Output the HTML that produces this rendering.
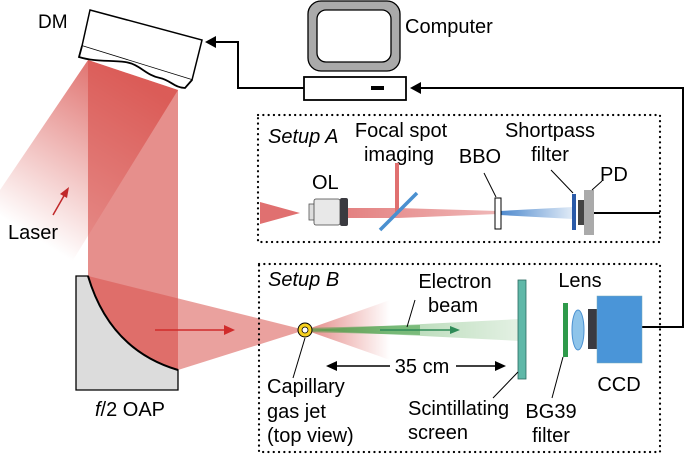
<!DOCTYPE html>
<html><head><meta charset="utf-8"><style>
html,body{margin:0;padding:0;background:#fff;}
svg{display:block;font-family:"Liberation Sans",sans-serif;}
</style></head><body>
<svg width="685" height="454" viewBox="0 0 685 454" xmlns="http://www.w3.org/2000/svg">
<defs>
<linearGradient id="inc" x1="130" y1="75" x2="30" y2="235" gradientUnits="userSpaceOnUse">
<stop offset="0" stop-color="#d9534f" stop-opacity="0.85"/>
<stop offset="1" stop-color="#d9534f" stop-opacity="0"/>
</linearGradient>
<linearGradient id="grn" x1="305" y1="0" x2="520" y2="0" gradientUnits="userSpaceOnUse">
<stop offset="0" stop-color="#3a9a3a"/>
<stop offset="1" stop-color="#3a9a3a" stop-opacity="0.25"/>
</linearGradient>
<linearGradient id="div" x1="305" y1="0" x2="390" y2="0" gradientUnits="userSpaceOnUse">
<stop offset="0" stop-color="#d9534f" stop-opacity="0.7"/>
<stop offset="1" stop-color="#d9534f" stop-opacity="0"/>
</linearGradient>
<linearGradient id="blu" x1="500" y1="0" x2="573" y2="0" gradientUnits="userSpaceOnUse">
<stop offset="0" stop-color="#3a7cc8" stop-opacity="0.9"/>
<stop offset="1" stop-color="#3a7cc8" stop-opacity="0.15"/>
</linearGradient>
<linearGradient id="redA" x1="300" y1="0" x2="498" y2="0" gradientUnits="userSpaceOnUse">
<stop offset="0" stop-color="#e07070"/>
<stop offset="1" stop-color="#e07070" stop-opacity="0.5"/>
</linearGradient>
</defs>

<polygon points="88,60 178,90 70,265 0,215 0,190" fill="url(#inc)"/>
<path d="M88,60 L178,90 L178,370 Q110,350 88,276 Z" fill="#d9534f" fill-opacity="0.65"/>
<path d="M88,276 Q110,350 178,370 L305,330 Z" fill="#d9534f" fill-opacity="0.55"/>
<polygon points="305,330 390,300 390,360" fill="url(#div)"/>
<line x1="155" y1="330" x2="228" y2="330" stroke="#d02b2b" stroke-width="1.5"/>
<polygon points="235,330 224,325 224,335" fill="#d02b2b"/>
<line x1="53" y1="215" x2="65" y2="194" stroke="#c0282a" stroke-width="1.5"/>
<polygon points="69,187 60,194 67,198" fill="#c0282a"/>

<path d="M76,276 L88,276 Q110,350 178,370 L178,390 L76,390 Z" fill="#dcdcdc" stroke="#000" stroke-width="1.3"/>
<path d="M88,276 Q110,350 178,370" fill="none" stroke="#000" stroke-width="2"/>

<polygon points="90,10 202,40 192,80 82,46" fill="#fff" stroke="#000" stroke-width="1.5"/>
<path d="M82,46 L79,57 C95,62 110,60 125,62 C140,64 145,75 160,78 C170,80 175,88 185,88 L192,80" fill="#fff" stroke="#000" stroke-width="1.8"/>
<text x="38" y="28" font-size="19">DM</text>

<rect x="308" y="1" width="92" height="70" rx="13" fill="#aaa" stroke="#000" stroke-width="1.3"/>
<rect x="317" y="10" width="74" height="52" rx="9" fill="#fff" stroke="#000" stroke-width="1.3"/>
<rect x="304" y="77" width="102" height="23" fill="#fff" stroke="#000" stroke-width="1.8"/>
<rect x="371" y="86" width="13" height="4" fill="#000"/>
<text x="405" y="33" font-size="20">Computer</text>
<polyline points="304,88 238,88 238,42 214,42" fill="none" stroke="#000" stroke-width="2"/>
<polygon points="205,42 216,36 216,48" fill="#000"/>
<polyline points="642,327 683,327 683,88 420,88" fill="none" stroke="#000" stroke-width="2"/>
<polygon points="410,88 421,82 421,94" fill="#000"/>

<rect x="258" y="115" width="402" height="127" fill="none" stroke="#000" stroke-width="2.2" stroke-dasharray="0.1 5.2" stroke-linecap="round"/>
<text x="268" y="143" font-size="20" font-style="italic">Setup A</text>
<text x="401" y="137" font-size="20" text-anchor="middle">Focal spot</text>
<text x="399" y="161" font-size="20" text-anchor="middle">imaging</text>
<text x="480" y="163" font-size="20" text-anchor="middle">BBO</text>
<text x="550" y="137" font-size="20" text-anchor="middle">Shortpass</text>
<text x="550" y="161" font-size="20" text-anchor="middle">filter</text>
<text x="600" y="181" font-size="20">PD</text>
<text x="312" y="189" font-size="20">OL</text>
<polygon points="260,202 300,213 260,224" fill="#e07070"/>
<polygon points="348,208 398,208 498,211 498,214 398,218 348,218" fill="url(#redA)"/>
<polygon points="395,212 399,212 399,163 395,163" fill="#e07070"/>
<line x1="380" y1="230" x2="417" y2="193" stroke="#4a90d0" stroke-width="3.5"/>
<polygon points="500,211 573,207 573,219 500,215" fill="url(#blu)"/>
<rect x="309" y="204" width="6" height="16" fill="#ddd" stroke="#555" stroke-width="0.8"/>
<rect x="314" y="199" width="26" height="26" rx="2" fill="#e8e8e8" stroke="#444" stroke-width="0.8"/>
<rect x="340" y="198" width="8" height="28" rx="2" fill="#3a3a40"/>
<rect x="495" y="198" width="6" height="31" fill="#fff" stroke="#000" stroke-width="1"/>
<line x1="484" y1="173" x2="496" y2="197" stroke="#000" stroke-width="1"/>
<rect x="572" y="194" width="4" height="36" fill="#2a5aa8"/>
<line x1="551" y1="170" x2="573" y2="193" stroke="#000" stroke-width="1"/>
<rect x="578" y="200" width="7" height="25" fill="#444"/>
<rect x="584" y="190" width="10" height="45" fill="#aaa"/>
<line x1="592" y1="190" x2="602" y2="181" stroke="#000" stroke-width="1"/>
<line x1="594" y1="213" x2="660" y2="213" stroke="#000" stroke-width="2"/>

<rect x="259" y="264" width="401" height="188" fill="none" stroke="#000" stroke-width="2.2" stroke-dasharray="0.1 5.2" stroke-linecap="round"/>
<text x="268" y="286" font-size="20" font-style="italic">Setup B</text>
<polygon points="305,330 520,319 520,341" fill="url(#grn)" fill-opacity="0.55"/>
<polygon points="305,328 420,325 420,335 305,332" fill="#3a9a3a" fill-opacity="0.5"/>
<line x1="380" y1="330" x2="452" y2="330" stroke="#2e8b57" stroke-width="1.5"/>
<polygon points="460,330 450,326 450,334" fill="#2e8b57"/>
<circle cx="305" cy="330" r="7" fill="#f5d020" stroke="#000" stroke-width="1"/>
<circle cx="305" cy="330" r="3" fill="#fff" stroke="#000" stroke-width="0.8"/>
<text x="455" y="288" font-size="20" text-anchor="middle">Electron</text>
<text x="453" y="312" font-size="20" text-anchor="middle">beam</text>
<line x1="415" y1="300" x2="407" y2="327" stroke="#000" stroke-width="1"/>
<line x1="330" y1="366" x2="390" y2="366" stroke="#000" stroke-width="1.5"/>
<polygon points="326,366 337,361 337,371" fill="#000"/>
<text x="422" y="373" font-size="20" text-anchor="middle">35 cm</text>
<line x1="456" y1="366" x2="500" y2="366" stroke="#000" stroke-width="1.5"/>
<polygon points="506,366 495,361 495,371" fill="#000"/>
<rect x="518" y="280" width="8" height="99" fill="#5fb8a8" stroke="#2a6a60" stroke-width="0.8"/>
<line x1="518" y1="372" x2="493" y2="398" stroke="#000" stroke-width="1"/>
<text x="408" y="415" font-size="20">Scintillating</text>
<text x="408" y="439" font-size="20">screen</text>
<line x1="305" y1="338" x2="293" y2="378" stroke="#000" stroke-width="1"/>
<text x="267" y="393" font-size="20">Capillary</text>
<text x="267" y="418" font-size="20">gas jet</text>
<text x="267" y="442" font-size="20">(top view)</text>
<text x="580" y="287" font-size="20" text-anchor="middle">Lens</text>
<rect x="563" y="303" width="5" height="54" fill="#2e9a4a"/>
<line x1="563" y1="357" x2="552" y2="398" stroke="#000" stroke-width="1"/>
<text x="551" y="418" font-size="20" text-anchor="middle">BG39</text>
<text x="551" y="442" font-size="20" text-anchor="middle">filter</text>
<ellipse cx="578" cy="330" rx="6" ry="20" fill="#8ec4ea" stroke="#4a90d0" stroke-width="1"/>
<rect x="588" y="309" width="11" height="40" fill="#3a3a40"/>
<rect x="597" y="296" width="45" height="67" fill="#4a95d8" stroke="#7ab" stroke-width="0.5"/>
<text x="619" y="391" font-size="20" text-anchor="middle">CCD</text>
<text x="130" y="416" font-size="20" text-anchor="middle"><tspan font-style="italic">f</tspan>/2 OAP</text>
<text x="8" y="239" font-size="20">Laser</text>
</svg>
</body></html>
